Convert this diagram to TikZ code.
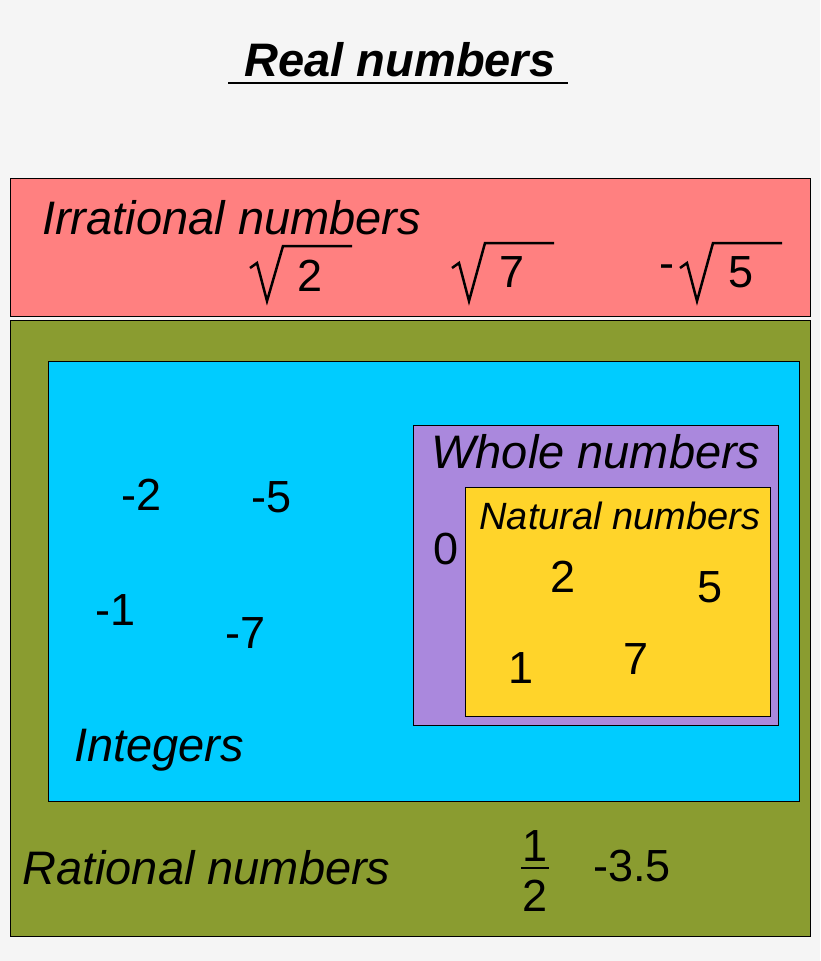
\documentclass[tikz,border=0pt]{standalone}
\usepackage{fontspec}
\setmainfont{Liberation Sans}
\definecolor{bg}{HTML}{F5F5F5}
\definecolor{redf}{HTML}{FF8080}
\definecolor{olive}{HTML}{8A9C30}
\definecolor{cyanf}{HTML}{00CCFF}
\definecolor{purp}{HTML}{AA88DD}
\definecolor{yel}{HTML}{FFD42A}
\tikzset{setbox/.style={draw=black, line width=1pt},
 lbl/.style={font=\fontsize{47}{49}\selectfont\itshape, inner sep=0pt},
 num/.style={font=\fontsize{45}{47}\selectfont, inner sep=0pt},
 rad/.style={line width=2.5pt, line join=miter}}
\begin{document}
\begin{tikzpicture}[x=1pt,y=-1pt]
\fill[bg] (0,0) rectangle (820,961);
\useasboundingbox (0,0) rectangle (820,961);
\draw[setbox, fill=redf] (10,178) rectangle (810,316);
\draw[setbox, fill=olive] (10,320) rectangle (810,936);
\draw[setbox, fill=cyanf] (48,361) rectangle (799,801);
\draw[setbox, fill=purp] (413,425) rectangle (778,725);
\draw[setbox, fill=yel] (465,487) rectangle (770,716);
\node[font=\fontsize{47}{49}\selectfont\bfseries\itshape, inner sep=0pt] (title) at (400,60) {Real numbers};
\coordinate (ul1) at (228,83); \coordinate (ul2) at (568,83);
\draw[line width=2.5pt] (ul1) -- (ul2);
\node[lbl, anchor=west] (irr) at (42,218) {Irrational numbers};
% sqrt 2
\coordinate (a1) at (250,268); \coordinate (a2) at (257,263); \coordinate (a3) at (267,301); \coordinate (a4) at (283,246); \coordinate (a5) at (352,246);
\draw[rad] (a1) -- (a2) -- (a3) -- (a4) -- (a5);
\node[num] (s2) at (310,276) {2};
% sqrt 7
\coordinate (b1) at (452,268); \coordinate (b2) at (459,263); \coordinate (b3) at (469,301); \coordinate (b4) at (485,243); \coordinate (b5) at (554,243);
\draw[rad] (b1) -- (b2) -- (b3) -- (b4) -- (b5);
\node[num] (s7) at (512,272) {7};
% -sqrt 5
\node[num] (mn) at (667,272) {-};
\coordinate (c1) at (680,268); \coordinate (c2) at (687,263); \coordinate (c3) at (697,301); \coordinate (c4) at (713,243); \coordinate (c5) at (782,243);
\draw[rad] (c1) -- (c2) -- (c3) -- (c4) -- (c5);
\node[num] (s5) at (741,272) {5};
\node[lbl] (whole) at (596,452) {Whole numbers};
\node[font=\fontsize{38}{40}\selectfont\itshape, inner sep=0pt] (nat) at (620,516) {Natural numbers};
\node[num] (z) at (446,549) {0};
\node[num] (n2) at (563,577) {2};
\node[num] (n5) at (710,587) {5};
\node[num] (n1) at (521,668) {1};
\node[num] (n7) at (636,659) {7};
\node[num] (m2) at (142,495) {-2};
\node[num] (m5) at (272,497) {-5};
\node[num] (m1) at (116,610) {-1};
\node[num] (m7) at (246,633) {-7};
\node[lbl] (int) at (159,750) {Integers};
\node[lbl, anchor=west] (rat) at (22,868) {Rational numbers};
\node[num] (h1) at (535,846) {1};
\node[num] (h2) at (535,896) {2};
\coordinate (f1) at (521,868); \coordinate (f2) at (549,868);
\draw[line width=2.5pt] (f1) -- (f2);
\node[num] (m35) at (632,866) {-3.5};
\end{tikzpicture}
\end{document}
